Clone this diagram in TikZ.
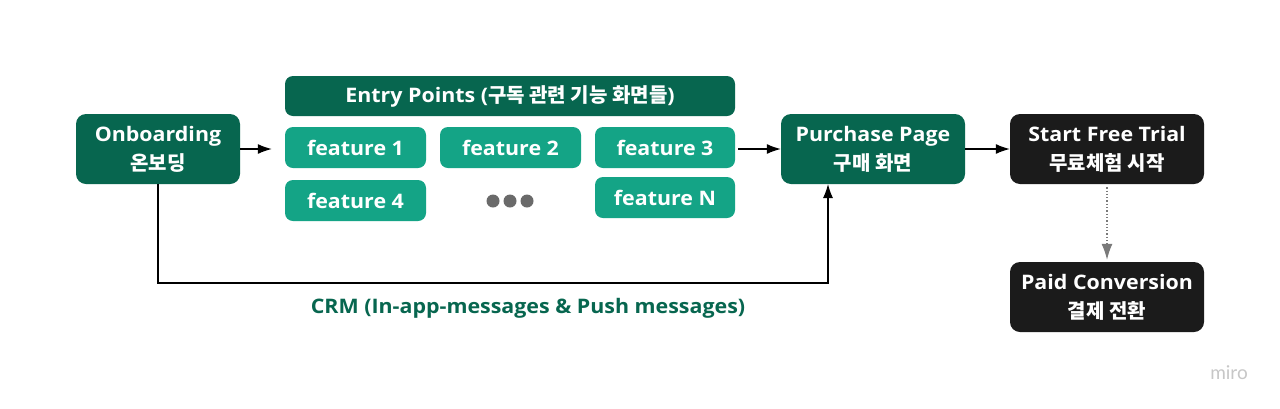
\documentclass[tikz,border=0pt]{standalone}
\usepackage{fontspec}
\setmainfont{Open Sans}[FakeStretch=1.07]
\newfontfamily\kr{Noto Sans CJK KR}
\newfontfamily\logo{Lato}
\usetikzlibrary{arrows.meta}
\definecolor{dgreen}{HTML}{07664F}
\definecolor{tgreen}{HTML}{14A486}
\definecolor{dblack}{HTML}{1B1B1B}
\definecolor{dotgray}{HTML}{6A6A6A}
\definecolor{arrgray}{HTML}{7A7A7A}
\tikzset{
  box/.style={rounded corners=10pt, inner sep=0pt, text=white, align=center,
    font=\fontsize{20}{29}\selectfont\bfseries},
  mainbox/.style={box, fill=dgreen, minimum width=164pt, minimum height=70pt},
  feat/.style={box, fill=tgreen, minimum width=141pt, minimum height=41pt, rounded corners=8pt},
  blackbox/.style={box, fill=dblack, minimum width=194pt, minimum height=70pt},
  arr/.style={line width=1.2pt, -{Latex[length=14pt,width=10pt]}},
  dotc/.style={circle, fill=dotgray, minimum size=13pt, inner sep=0pt}
}
\begin{document}
\begin{tikzpicture}[x=1pt,y=-1pt]
\useasboundingbox[fill=white] (0,0) rectangle (1280,408);
\node[mainbox] (onb) at (158,149) {Onboarding\\{\kr 온보딩}};
\node[box, fill=dgreen, minimum width=450pt, minimum height=40pt, rounded corners=8pt] (entry) at (510,96) {Entry Points ({\kr 구독 관련 기능 화면들})};
\node[feat] (f1) at (355.5,147.5) {feature 1};
\node[feat] (f2) at (510.5,147.5) {feature 2};
\node[feat, minimum width=140pt] (f3) at (665,147.5) {feature 3};
\node[feat] (f4) at (355.5,200.5) {feature 4};
\node[dotc] (d1) at (493,201) {};
\node[dotc] (d2) at (510,201) {};
\node[dotc] (d3) at (527,201) {};
\node[feat, minimum width=140pt] (fN) at (665,197.5) {feature N};
\node[mainbox, minimum width=184pt] (pur) at (873,149) {Purchase Page\\{\kr 구매 화면}};
\node[blackbox] (start) at (1107,149) {Start Free Trial\\{\kr 무료체험 시작}};
\node[blackbox] (paid) at (1107,297) {Paid Conversion\\{\kr 결제 전환}};
\node[text=dgreen, font=\fontsize{20}{24}\selectfont\bfseries] (crm) at (528,308) {CRM (In-app-messages \& Push messages)};
\node[text=black!22, font=\logo\fontsize{19}{20}\selectfont] (miro) at (1229,373) {miro};
\coordinate (crmL) at (158,283);
\coordinate (crmR) at (828,184);
\draw[arr, shorten >=13pt] (onb.east) -- (onb.east -| f1.west);
\draw[arr, shorten <=3pt] (f3.east |- pur.west) -- (pur.west);
\draw[arr] (pur.east) -- (start.west);
\draw[arrgray, line width=1.3pt, dash pattern=on 1.3pt off 2pt, -{Latex[length=16pt,width=11pt]}, shorten <=3pt, shorten >=2pt] (start.south) -- (paid.north);
\draw[arr] (onb.south) -- (crmL) -| (crmR);
\end{tikzpicture}
\end{document}
